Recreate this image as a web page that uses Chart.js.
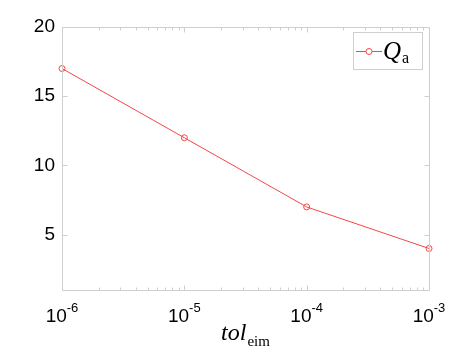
<!DOCTYPE html>
<html>
<head>
<meta charset="utf-8">
<script src="https://cdn.jsdelivr.net/npm/chart.js@4/dist/chart.umd.min.js"></script>
<style>
html,body{margin:0;padding:0;background:#fff;}
canvas{display:block;}
</style>
</head>
<body>
<canvas id="c" width="474" height="355"></canvas>
<script>
// ---- data ----
const tolValues = [1e-6, 1e-5, 1e-4, 1e-3];
const qaValues = [17, 12, 7, 4];
const yTickValues = [5, 10, 15, 20];
const xTickExponents = [-6, -5, -4, -3];
const seriesLabel = 'Q_a';

const AXIS_COLOR = '#cfcfcf';
const RED = 'rgb(245,70,70)';
const SANS = '"Liberation Sans", Arial, sans-serif';
const SERIF = '"Liberation Serif", "Times New Roman", serif';

const boxPlugin = {
  id: 'matlabBox',
  afterDraw(chart) {
    const ctx = chart.ctx;
    const a = chart.chartArea;
    const xs = chart.scales.x, ys = chart.scales.y;
    ctx.save();
    // axes box
    ctx.strokeStyle = AXIS_COLOR;
    ctx.lineWidth = 1;
    const L = Math.round(a.left) + 0.5, R = Math.round(a.right) + 0.5;
    const T = Math.round(a.top) + 0.5, B = Math.round(a.bottom) + 0.5;
    ctx.beginPath();
    ctx.moveTo(L, T); ctx.lineTo(R, T); ctx.lineTo(R, B); ctx.lineTo(L, B); ctx.closePath();
    ctx.stroke();
    // x ticks (major + minor), inward on bottom and top
    ctx.beginPath();
    xTickExponents.forEach((e) => {
      const base = Math.pow(10, e);
      for (let k = 1; k <= 9; k++) {
        const v = base * k;
        if (v > xs.max * 1.0001) break;
        const px = Math.round(xs.getPixelForValue(v)) + 0.5;
        const len = k === 1 ? 5 : 3;
        ctx.moveTo(px, B); ctx.lineTo(px, B - len);
        ctx.moveTo(px, T); ctx.lineTo(px, T + len);
      }
    });
    // y ticks inward on left and right
    yTickValues.forEach(v => {
      const py = Math.round(ys.getPixelForValue(v)) + 0.5;
      ctx.moveTo(L, py); ctx.lineTo(L + 5, py);
      ctx.moveTo(R, py); ctx.lineTo(R - 5, py);
    });
    ctx.stroke();

    // x tick labels with superscripts
    ctx.fillStyle = '#000';
    ctx.textBaseline = 'alphabetic';
    ctx.textAlign = 'left';
    xTickExponents.forEach((e, i) => {
      const px = xs.getPixelForValue(tolValues[i]);
      ctx.font = '19px ' + SANS;
      const wb = ctx.measureText('10').width;
      ctx.font = '13px ' + SANS;
      const es = String(e);
      const we = ctx.measureText(es).width;
      const x0 = px - (wb + we) / 2;
      ctx.font = '19px ' + SANS;
      ctx.fillText('10', x0, 322);
      ctx.font = '13px ' + SANS;
      ctx.fillText(es, x0 + wb, 312);
    });

    // x axis title: tol_eim
    ctx.font = 'italic 24px ' + SERIF;
    const wt = ctx.measureText('tol').width;
    ctx.font = '15px ' + SERIF;
    const ws = ctx.measureText('eim').width;
    const cx = (a.left + a.right) / 2;
    const tx = cx - (wt + ws + 1) / 2;
    ctx.font = 'italic 24px ' + SERIF;
    ctx.fillText('tol', tx, 339.5);
    ctx.font = '15px ' + SERIF;
    ctx.fillText('eim', tx + wt + 1, 345.5);

    // legend
    const lx = 353.5, ly = 32.5, lw = 69, lh = 37;
    ctx.fillStyle = '#fff';
    ctx.fillRect(lx, ly, lw, lh);
    ctx.strokeStyle = AXIS_COLOR;
    ctx.strokeRect(lx, ly, lw, lh);
    const ds = chart.data.datasets[0];
    ctx.strokeStyle = ds.borderColor;
    ctx.lineWidth = 1;
    ctx.beginPath();
    ctx.moveTo(356, 51.5); ctx.lineTo(382, 51.5);
    ctx.stroke();
    ctx.fillStyle = '#fff';
    ctx.beginPath();
    ctx.arc(369, 51.5, 3, 0, Math.PI * 2);
    ctx.fill();
    ctx.stroke();
    ctx.fillStyle = '#000';
    ctx.font = 'italic 25px ' + SERIF;
    ctx.fillText('Q', 383, 59);
    const wq = ctx.measureText('Q').width;
    ctx.font = '16px ' + SERIF;
    ctx.fillText('a', 383 + wq + 1, 63);
    ctx.restore();
  }
};

new Chart(document.getElementById('c'), {
  type: 'line',
  data: {
    datasets: [{
      label: seriesLabel,
      data: tolValues.map((x, i) => ({ x: x, y: qaValues[i] })),
      borderColor: RED,
      borderWidth: 1,
      pointRadius: 3,
      pointHoverRadius: 3,
      pointBorderColor: RED,
      pointBackgroundColor: 'rgba(255,255,255,0)',
      pointBorderWidth: 1,
      tension: 0,
      fill: false,
      clip: false
    }]
  },
  options: {
    responsive: false,
    animation: false,
    devicePixelRatio: 1,
    layout: { padding: { top: 27, right: 45, left: 0, bottom: 0 } },
    plugins: { legend: { display: false }, tooltip: { enabled: false } },
    events: [],
    scales: {
      x: {
        type: 'logarithmic',
        min: 1e-6,
        max: 1e-3,
        ticks: { display: false },
        grid: { display: false, drawTicks: false },
        border: { display: false },
        afterFit(s) { s.height = 65; }
      },
      y: {
        type: 'linear',
        min: 1,
        max: 20,
        afterBuildTicks(s) { s.ticks = yTickValues.map(v => ({ value: v })); },
        ticks: {
          color: '#000',
          padding: 7,
          font: { family: SANS, size: 19 }
        },
        grid: { display: false, drawTicks: false },
        border: { display: false },
        afterFit(s) { s.width = 62; }
      }
    }
  },
  plugins: [boxPlugin]
});
</script>
</body>
</html>
